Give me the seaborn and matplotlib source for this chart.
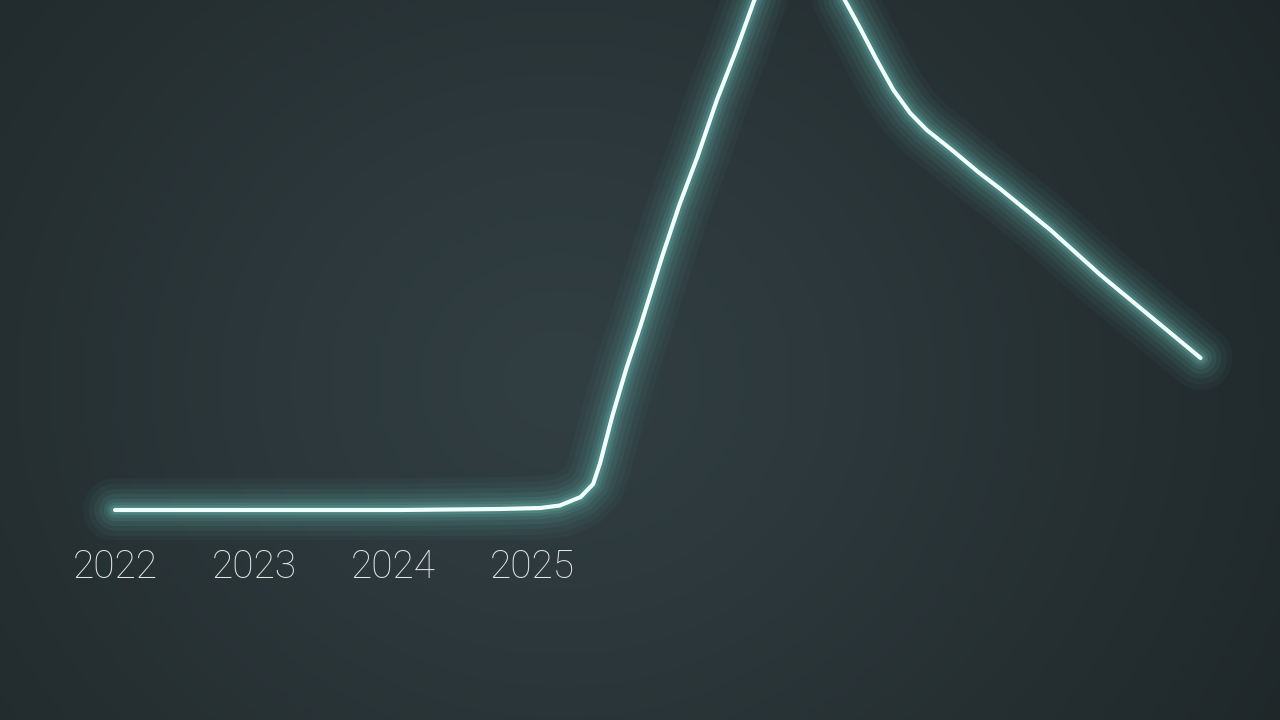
import numpy as np
import pandas as pd
import matplotlib
matplotlib.use("Agg")
import matplotlib.pyplot as plt
import seaborn as sns

# ---- data ----
years = [2022.00, 2024.05, 2024.77, 2025.06, 2025.20, 2025.35, 2025.44, 2025.49,
         2025.58, 2025.68, 2025.78, 2025.94, 2026.06, 2026.19, 2026.33, 2026.47,
         2026.60, 2026.75, 2026.93, 2027.11, 2027.25, 2027.36, 2027.48, 2027.60,
         2027.72, 2027.84, 2028.03, 2028.21, 2028.37, 2028.73, 2029.09, 2029.81]
values = [10.0, 10.0, 10.2, 10.4, 10.9, 12.6, 15.2, 19.4,
          29.0, 38.4, 46.8, 61.0, 71.0, 80.6, 92.0, 102.0,
          112.0, 120.0, 124.0, 120.0, 112.0, 106.4, 100.0, 94.0,
          89.4, 86.0, 81.8, 77.6, 74.2, 66.0, 57.0, 40.4]
tick_years = [2022, 2023, 2024, 2025]
tick_labels = ["2022", "2023", "2024", "2025"]

df = pd.DataFrame({"year": years, "value": values})

sns.set_theme(style="white")
plt.rcParams['font.family'] = ['Roboto', 'DejaVu Sans']

fig = plt.figure(figsize=(12.8, 7.2), dpi=100)

# background radial gradient
bg = fig.add_axes([0, 0, 1, 1], zorder=0)
H, W = 720, 1280
yy, xx = np.mgrid[0:H, 0:W]
d = np.sqrt(((xx - 560) / 1.0) ** 2 + ((yy - 380) / 0.9) ** 2)
t = np.clip(d / 850.0, 0, 1) ** 1.2
c_in = np.array([49, 62, 66]) / 255.0
c_out = np.array([30, 38, 40]) / 255.0
img = c_in[None, None, :] * (1 - t[..., None]) + c_out[None, None, :] * t[..., None]
bg.imshow(img, aspect="auto", extent=[0, 1, 0, 1], origin="upper")
bg.set_axis_off()

ax = fig.add_axes([0, 0.25, 1, 0.75], zorder=1)
ax.patch.set_alpha(0)

glow = "#66b2ac"
for lw, a in [(46, 0.05), (38, 0.06), (30, 0.08), (23, 0.10), (16, 0.14), (11, 0.19), (7, 0.27)]:
    sns.lineplot(data=df, x="year", y="value", ax=ax, color=glow, linewidth=lw,
                 alpha=a, solid_capstyle="round", solid_joinstyle="round", sort=False)
sns.lineplot(data=df, x="year", y="value", ax=ax, color="#f0fffc", linewidth=3.0,
             solid_capstyle="round", solid_joinstyle="round", sort=False)

x0 = 2022 - 115 / 139
ax.set_xlim(x0, x0 + 1280 / 139)
ax.set_ylim(4, 112)
ax.set_xticks(tick_years)
ax.set_xticklabels(tick_labels, fontsize=28, color="#e2e7e6", fontweight="light")
ax.tick_params(axis="x", length=0, pad=6)
ax.set_yticks([])
ax.set_xlabel("")
ax.set_ylabel("")
for s in ax.spines.values():
    s.set_visible(False)

fig.savefig("out.png", dpi=100)
